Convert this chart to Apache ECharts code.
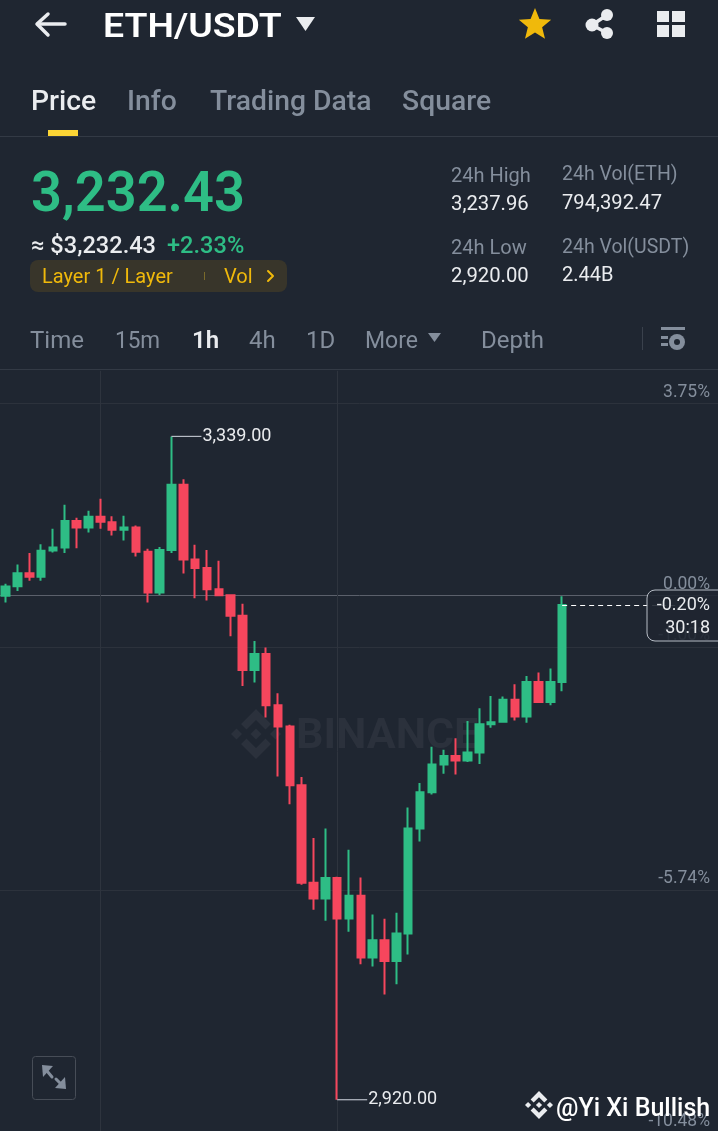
<!DOCTYPE html>
<html lang="en">
<head>
	<title>ETH/USDT</title>
	<meta charset="UTF-8">
	<script src="https://cdn.jsdelivr.net/npm/echarts@6/dist/echarts.min.js"></script>
	<style type="text/css">
		html,body{
			margin: 0;
			height: 100%;
			background-color: #1f2631;
		}
		#chart{
			width: 718px;
			height: 1131px;
		}
	</style>
</head>
<body>
	<div id="chart"></div>
	<script>
		// candles, oldest first
		var opens = [3238.3,3244.4,3252.6,3250.3,3267.0,3268.8,3285.5,3281.5,3288.2,3284.8,3280.0,3281.5,3266.1,3240.4,3267.2,3308.4,3261.3,3255.8,3242.5,3238.7,3225.7,3191.4,3201.5,3169.2,3155.8,3118.7,3057.0,3047.1,3060.0,3034.5,3048.8,3009.9,3020.8,3007.7,3025.0,3091.3,3114.3,3131.8,3137.2,3134.3,3139.3,3157.2,3158.7,3172.6,3162.1,3183.8,3171.3,3183.8];
		var closes = [3244.2,3252.6,3250.3,3266.7,3268.8,3285.5,3281.5,3288.2,3285.1,3280.0,3281.5,3266.1,3240.4,3267.2,3308.4,3261.3,3255.8,3242.5,3238.7,3225.7,3191.4,3201.5,3169.2,3155.8,3118.7,3057.0,3047.1,3060.0,3034.5,3048.8,3009.9,3020.8,3007.7,3025.0,3091.3,3114.3,3131.8,3137.2,3134.3,3139.3,3157.2,3158.5,3172.6,3162.1,3183.8,3171.3,3183.8,3232.43];
		var lows = [3234.1,3241.3,3247.8,3247.8,3265.7,3265.3,3268.4,3278.3,3280.6,3276.4,3273.3,3263.2,3234.1,3238.9,3265.3,3252.4,3236.8,3235.4,3238.7,3212.8,3181.3,3183.6,3161.5,3124.2,3106.7,3055.8,3040.0,3033.0,2920.0,3026.1,3005.6,3004.2,2986.5,2993.0,3011.7,3083.1,3112.8,3125.9,3125.5,3133.4,3132.0,3154.9,3158.7,3159.6,3158.1,3170.7,3169.2,3178.1];
		var highs = [3245.9,3258.1,3265.3,3270.9,3280.6,3295.8,3287.6,3292.0,3299.6,3288.6,3288.9,3282.7,3268.0,3269.1,3339.0,3312.0,3270.5,3267.2,3260.4,3238.7,3233.3,3209.7,3205.7,3176.8,3156.8,3123.8,3085.4,3091.3,3060.8,3077.9,3060.4,3037.0,3034.3,3038.1,3104.6,3120.0,3142.9,3141.0,3148.4,3159.3,3167.3,3175.1,3174.7,3182.5,3187.6,3189.9,3192.4,3237.96];

		// percent axis, zero is the price at the start of the range
		var basePrice = 3238.5;
		var tickPercents = [-10.48,-5.74,-1,0,3.75];
		var topPercent = 4.383;
		var tickLabels = ['-10.48%','-5.74%','-1.00%','0.00%','3.75%'];

		var slotCount = 61;
		var slots = [];
		for (var s = 0; s < slotCount; s++) slots.push(String(s));
		var timeLines = [8,28];
		var highIndex = 14, lowIndex = 28;
		var lastIndex = 47;

		var UP = '#2ebd85', DOWN = '#f6465d';
		var WHITE = '#eaecef', GRAY = '#848e9c', YELLOW = '#f0b90b';
		var FONT = 'Roboto';

		function toPrice(pct){
			return basePrice * (1 + pct / 100);
		}
		function money(v){
			return v.toLocaleString('en-US',{minimumFractionDigits:2,maximumFractionDigits:2});
		}
		var tickPrices = tickPercents.map(toPrice);

		var candles = opens.map(function(o,i){
			return [o,closes[i],lows[i],highs[i]];
		});

		// helpers for the app screen around the chart
		function txt(x,y,text,size,color,weight,align,sx){
			var cy = y + size * 0.1;
			return {
				type: 'text',
				z: 30,
				x: x,
				y: cy,
				scaleX: sx || 1,
				style: {text:text,x:0,y:0,fill:color,fontSize:size,fontWeight:weight || 400,fontFamily:FONT,verticalAlign:'middle',align:align || 'left'}
			};
		}
		function box(x,y,w,h,color,r){
			return {type:'rect',z:30,shape:{x:x,y:y,width:w,height:h,r:r || 0},style:{fill:color}};
		}
		function poly(points,color,z){
			return {type:'polygon',z:z || 30,shape:{points:points},style:{fill:color}};
		}
		function stroke(points,color,w){
			return {type:'polyline',z:30,shape:{points:points},style:{stroke:color,lineWidth:w,fill:null,lineCap:'round',lineJoin:'round'}};
		}
		function circle(x,y,r,color){
			return {type:'circle',z:30,shape:{cx:x,cy:y,r:r},style:{fill:color}};
		}
		function logo(cx,cy,s,color,z){
			var shapes = [
				[[0,-.22],[.22,0],[0,.22],[-.22,0]],
				[[-.78,-.22],[-.56,0],[-.78,.22],[-1,0]],
				[[.78,-.22],[1,0],[.78,.22],[.56,0]],
				[[0,-1],[.6,-.4],[.38,-.18],[0,-.56],[-.38,-.18],[-.6,-.4]],
				[[0,1],[.6,.4],[.38,.18],[0,.56],[-.38,.18],[-.6,.4]]
			];
			return shapes.map(function(p){
				return poly(p.map(function(q){return [cx + q[0] * s,cy + q[1] * s];}),color,z);
			});
		}
		function star(cx,cy,R,r,color){
			var pts = [];
			for (var i = 0; i < 10; i++) {
				var a = -Math.PI / 2 + i * Math.PI / 5, d = i % 2 ? r : R;
				pts.push([cx + d * Math.cos(a),cy + d * Math.sin(a)]);
			}
			return poly(pts,color);
		}

		var screen = [
			// top bar
			stroke([[65,24],[38,24]],WHITE,3.5),
			stroke([[48,14],[37,24],[48,35]],WHITE,3.5),
			txt(103,25,'ETH/USDT',34,'#ffffff',600,'left',1.1),
			poly([[296,17],[315,17],[305.5,31]],WHITE),
			star(535,25,17,7.5,YELLOW),
			stroke([[607,15],[592,25],[607,33]],WHITE,3.5),
			circle(607,15,6,WHITE),circle(592,25,6.5,WHITE),circle(607,33,6,WHITE),
			box(657,11,12,11,WHITE),box(672,11,13,11,WHITE),box(657,25,12,12,WHITE),box(672,25,13,12,WHITE),
			// tabs
			txt(31,100,'Price',28.3,WHITE,500),
			txt(127,100,'Info',28.3,GRAY,500),
			txt(210,100,'Trading Data',28.3,GRAY,500),
			txt(402,100,'Square',28.3,GRAY,500),
			box(48,130,30,6,'#fcd535'),
			box(0,136,718,1,'#333a45'),
			// price block
			txt(31,191,'3,232.43',56,UP,600,'left',0.968),
			txt(31,245,'≈ $3,232.43',23.6,WHITE,500),
			txt(167,245,'+2.33%',23.6,UP,500),
			box(30,260,257,32,'#38352a',8),
			txt(42,276,'Layer 1 / Layer',20,YELLOW),
			box(204,272,1,8,'#7a6a2a'),
			txt(224,276,'Vol',20,YELLOW),
			stroke([[268,271],[273,276],[268,281]],YELLOW,2),
			txt(451,175,'24h High',20,GRAY),
			txt(451,203,'3,237.96',20.3,WHITE),
			txt(562,173,'24h Vol(ETH)',20,GRAY,400,'left',0.975),
			txt(562,202,'794,392.47',20.2,WHITE),
			txt(451,247,'24h Low',20,GRAY),
			txt(451,275,'2,920.00',20.3,WHITE),
			txt(562,246,'24h Vol(USDT)',20,GRAY,400,'left',0.975),
			txt(562,274,'2.44B',20,WHITE),
			// interval row
			txt(30,340,'Time',24,GRAY),
			txt(115,340,'15m',24,GRAY,400,'left',0.94),
			txt(192,340,'1h',24,WHITE,600),
			txt(249,340,'4h',24,GRAY),
			txt(306,340,'1D',24,GRAY),
			txt(365,340,'More',24,GRAY,400,'left',0.96),
			poly([[428,333],[441,333],[434.5,342]],GRAY),
			txt(481,340,'Depth',24,GRAY),
			box(642,327,1,23,'#3a414c'),
			box(661,327,24,3,GRAY),box(661,336,7,3,GRAY),box(661,343,7,3,GRAY),
			circle(677,342,8,GRAY),circle(677,342,3,'#1f2631'),
			box(0,369,718,1,'#333a45'),
			// watermark behind the candles
			{type:'text',z:1,style:{text:'BINANCE',x:296,y:737,fill:'#2b313c',fontSize:43,fontWeight:700,fontFamily:FONT,verticalAlign:'middle',align:'left'}},
			// live price tag
			{type:'rect',z:25,shape:{x:647,y:590,width:80,height:51,r:8},style:{fill:'rgba(31,38,49,0.9)',stroke:'#b7bdc6',lineWidth:1}},
			txt(710,604,'-0.20%',18,WHITE,400,'right'),
			txt(710,627,'30:18',18,WHITE,400,'right'),
			// expand button
			{type:'rect',z:30,shape:{x:32.5,y:1056.5,width:43,height:43,r:3},style:{fill:'none',stroke:'#474d57',lineWidth:1}},
			poly([[42,1065],[53,1066],[43,1077]],GRAY),
			poly([[66,1089],[55,1088],[65,1077]],GRAY),
			stroke([[47,1071],[52,1077]],GRAY,3),
			stroke([[56,1079],[61,1084]],GRAY,3),
			// author tag
			txt(556,1107,'@Yi Xi Bullish',25,'#ffffff',500)
		].concat(logo(256,734,25,'#2b313c',1)).concat(logo(539,1105,14,WHITE,30));

		var chart = echarts.init(document.getElementById('chart'));
		chart.setOption({
			animation: false,
			backgroundColor: '#1f2631',
			grid: {left:-0.25,top:370.8,width:722.24,height:762,outerBoundsMode:'none'},
			xAxis: {
				type: 'category',
				data: slots,
				axisLine: {show:false},
				axisTick: {show:false},
				axisLabel: {show:false},
				splitLine: {
					show: true,
					alignWithLabel: true,
					interval: function(i){ return timeLines.indexOf(i) >= 0; },
					lineStyle: {color:'#2e343e',width:1}
				}
			},
			yAxis: {
				type: 'value',
				position: 'right',
				min: tickPrices[0],
				max: toPrice(topPercent),
				axisLine: {show:false},
				axisTick: {show:false,customValues:tickPrices},
				axisLabel: {
					inside: true,
					margin: 12,
					color: GRAY,
					fontSize: 17.5,
					fontFamily: FONT,
					verticalAlign: 'bottom',
					padding: [0,0,2,0],
					customValues: tickPrices,
					showMinLabel: true,
					showMaxLabel: true,
					formatter: function(v){
						return tickLabels[tickPrices.indexOf(v)];
					}
				},
				splitLine: {
					show: true,
					lineStyle: {color:['#2c323c','#2c323c','#2c323c','#5b606b','#2c323c'],width:1}
				}
			},
			series: [{
				type: 'candlestick',
				data: candles,
				barWidth: 8,
				itemStyle: {color:UP,color0:DOWN,borderColor:UP,borderColor0:DOWN,borderWidth:2},
				markPoint: {
					silent: true,
					symbol: 'rect',
					symbolSize: [30,1.2],
					itemStyle: {color:'#b7bdc6'},
					label: {position:'right',distance:1,color:WHITE,fontSize:18,fontFamily:FONT},
					data: [
						{coord:[highIndex,highs[highIndex]],symbolOffset:[15,0],label:{formatter:money(highs[highIndex])}},
						{coord:[lowIndex,lows[lowIndex]],symbolOffset:[15,0],label:{formatter:money(lows[lowIndex])}}
					]
				},
				markLine: {
					silent: true,
					symbol: 'none',
					label: {show:false},
					lineStyle: {color:'#ffffff',type:[5,4],width:1},
					data: [[{coord:[lastIndex,closes[lastIndex]]},{coord:[57,closes[lastIndex]]}]]
				}
			}],
			graphic: screen
		});
	</script>
</body>
</html>
